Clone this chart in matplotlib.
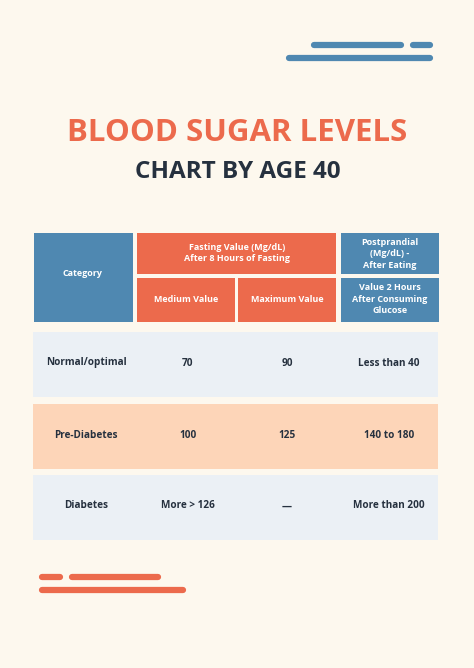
import matplotlib.pyplot as plt
from matplotlib.patches import Rectangle

W, H = 474, 668
BG = '#fdf8ee'
ORANGE = '#ec6a4c'
BLUE = '#4f88b1'
DARK = '#26313f'

categories = ['Normal/optimal', 'Pre-Diabetes', 'Diabetes']
medium_vals = ['70', '100', 'More > 126']
maximum_vals = ['90', '125', '—']
post_vals = ['Less than 40', '140 to 180', 'More than 200']
row_colors = ['#ebf0f5', '#fdd5b8', '#ebf0f5']

fig = plt.figure(figsize=(W / 100, H / 100), dpi=100, facecolor=BG)
ax = fig.add_axes([0, 0, 1, 1])
ax.set_xlim(0, W)
ax.set_ylim(H, 0)
ax.axis('off')

def box(x0, y0, x1, y1, color):
    ax.add_patch(Rectangle((x0, y0), x1 - x0, y1 - y0, color=color, lw=0))

def txt(x, y, s, size=6.5, color='white'):
    ax.text(x, y, s, ha='center', va='center', fontsize=size, color=color,
            fontweight='bold', family='Open Sans', linespacing=1.3)

def line(x0, x1, y, color):
    ax.plot([x0, x1], [y, y], color=color, lw=4.5, solid_capstyle='round')

# decorative strokes
line(314, 401, 45, BLUE)
line(413, 430, 45, BLUE)
line(289, 430, 58, BLUE)
line(42, 60, 577, ORANGE)
line(72, 158, 577, ORANGE)
line(42, 183, 590, ORANGE)

ax.text(237, 133, 'BLOOD SUGAR LEVELS', ha='center', va='center', fontsize=22.5,
        color=ORANGE, fontweight='bold', family='Open Sans')
ax.text(238, 172, 'CHART BY AGE 40', ha='center', va='center', fontsize=17.5,
        color=DARK, fontweight='bold', family='Open Sans')

# header
box(34, 233, 133, 322, BLUE)
txt(83, 274, 'Category')
box(137, 233, 336, 274, ORANGE)
txt(237, 253, 'Fasting Value (Mg/dL)\nAfter 8 Hours of Fasting')
box(137, 278, 235, 322, ORANGE)
txt(186, 299, 'Medium Value')
box(238, 278, 336, 322, ORANGE)
txt(287, 299, 'Maximum Value')
box(341, 233, 439, 274, BLUE)
txt(390, 254, 'Postprandial\n(Mg/dL) -\nAfter Eating')
box(341, 278, 439, 322, BLUE)
txt(390, 299, 'Value 2 Hours\nAfter Consuming\nGlucose')

# body rows
tops = [332, 404, 475]
for i, cat in enumerate(categories):
    y0 = tops[i]
    box(33, y0, 438, y0 + 65, row_colors[i])
    yc = y0 + 31
    txt(86, yc, cat, 7.2, DARK)
    txt(188, yc, medium_vals[i], 7.2, DARK)
    txt(287, yc, maximum_vals[i], 7.2, DARK)
    txt(389, yc, post_vals[i], 7.2, DARK)

fig.savefig('out.png', dpi=100, facecolor=BG)
